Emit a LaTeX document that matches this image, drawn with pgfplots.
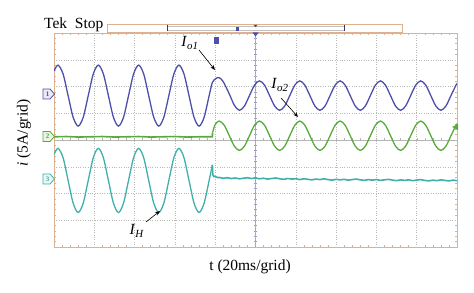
\documentclass[border=0pt]{standalone}
\usepackage{pgfplots}
\pgfplotsset{compat=1.18}
\usepackage{fontspec}
\setmainfont{Liberation Serif}
\usetikzlibrary{arrows.meta}
\definecolor{cone}{HTML}{4E4FAA}
\definecolor{ctwo}{HTML}{58AA3A}
\definecolor{cthree}{HTML}{40B0AA}
\definecolor{framec}{HTML}{DDB08F}
\definecolor{centc}{HTML}{9A9EC8}
\begin{document}
\begin{tikzpicture}[x=1pt,y=1pt,font=\fontsize{15.5}{18}\selectfont]
\path[use as bounding box] (0,0) rectangle (474,292);
% centre lines with small ticks
\draw[centc, line width=0.5pt] (255.5,45) -- (255.5,259);
\draw[gray!60, line width=0.5pt] (54,152) -- (457,152);
\foreach \k in {1,...,49} {\draw[gray!60, line width=0.4pt] (54+\k*8.06,150.5) -- ++(0,3);}
\foreach \k in {1,...,39} {\draw[centc, line width=0.4pt] (254,45+\k*5.35) -- ++(3,0);}
\begin{axis}[at={(54pt,45pt)}, anchor=south west, scale only axis,
  width=403pt, height=214pt, xmin=0, xmax=10, ymin=-4, ymax=4,
  xtick={0,...,10}, ytick={-4,...,4}, xticklabels={}, yticklabels={},
  major tick length=0pt, minor x tick num=4, minor y tick num=4, minor tick length=2pt,
  every tick/.style={framec, line width=0.5pt},
  grid=major, major grid style={dotted, gray!55, line width=0.5pt},
  axis line style={draw=framec, line width=0.8pt}, clip=true]
\addplot[cone, line width=1.3pt, smooth] coordinates {
(0,2.58)(0.1,2.80)(0.225,2.47)(0.35,1.66)(0.475,0.85)(0.6,0.52)(0.725,0.85)(0.85,1.66)(0.975,2.47)
(1.1,2.80)(1.225,2.47)(1.35,1.66)(1.475,0.85)(1.6,0.52)(1.725,0.85)(1.85,1.66)(1.975,2.47)
(2.1,2.80)(2.225,2.47)(2.35,1.66)(2.475,0.85)(2.6,0.52)(2.725,0.85)(2.85,1.66)(2.975,2.47)
(3.1,2.80)(3.225,2.47)(3.35,1.66)(3.475,0.85)(3.6,0.52)(3.725,0.85)(3.85,1.66)(3.93,2.15)
(4.02,2.30)(4.1,2.33)(4.2,2.18)(4.35,1.72)(4.475,1.30)(4.6,1.11)(4.725,1.27)(4.85,1.66)(4.975,2.05)
(5.1,2.21)(5.225,2.05)(5.35,1.66)(5.475,1.27)(5.6,1.11)(5.725,1.27)(5.85,1.66)(5.975,2.05)
(6.1,2.21)(6.225,2.05)(6.35,1.66)(6.475,1.27)(6.6,1.11)(6.725,1.27)(6.85,1.66)(6.975,2.05)
(7.1,2.21)(7.225,2.05)(7.35,1.66)(7.475,1.27)(7.6,1.11)(7.725,1.27)(7.85,1.66)(7.975,2.05)
(8.1,2.21)(8.225,2.05)(8.35,1.66)(8.475,1.27)(8.6,1.11)(8.725,1.27)(8.85,1.66)(8.975,2.05)
(9.1,2.21)(9.225,2.05)(9.35,1.66)(9.475,1.27)(9.6,1.11)(9.725,1.27)(9.85,1.66)(9.975,2.05)(10,2.10)};
\addplot[ctwo, line width=1.6pt] coordinates {
(0,0.12)(0.3,0.13)(0.6,0.11)(0.9,0.12)(1.2,0.13)(1.5,0.11)(1.8,0.12)(2.1,0.13)(2.4,0.11)
(2.7,0.12)(3.0,0.13)(3.3,0.11)(3.6,0.12)(3.93,0.12)(3.935,0.28)};
\addplot[ctwo, line width=1.3pt, smooth] coordinates {
(3.935,0.28)(4.0,0.58)(4.1,0.71)(4.225,0.55)(4.35,0.16)(4.475,-0.23)(4.6,-0.39)(4.725,-0.23)(4.85,0.16)(4.975,0.55)
(5.1,0.71)(5.225,0.55)(5.35,0.16)(5.475,-0.23)(5.6,-0.39)(5.725,-0.23)(5.85,0.16)(5.975,0.55)
(6.1,0.71)(6.225,0.55)(6.35,0.16)(6.475,-0.23)(6.6,-0.39)(6.725,-0.23)(6.85,0.16)(6.975,0.55)
(7.1,0.71)(7.225,0.55)(7.35,0.16)(7.475,-0.23)(7.6,-0.39)(7.725,-0.23)(7.85,0.16)(7.975,0.55)
(8.1,0.71)(8.225,0.55)(8.35,0.16)(8.475,-0.23)(8.6,-0.39)(8.725,-0.23)(8.85,0.16)(8.975,0.55)
(9.1,0.71)(9.225,0.55)(9.35,0.16)(9.475,-0.23)(9.6,-0.39)(9.725,-0.23)(9.85,0.16)(9.975,0.55)(10,0.60)};
\addplot[cthree, line width=1.3pt, smooth] coordinates {
(0,-0.54)(0.1,-0.31)(0.225,-0.66)(0.35,-1.51)(0.475,-2.36)(0.6,-2.71)(0.725,-2.36)(0.85,-1.51)(0.975,-0.66)
(1.1,-0.31)(1.225,-0.66)(1.35,-1.51)(1.475,-2.36)(1.6,-2.71)(1.725,-2.36)(1.85,-1.51)(1.975,-0.66)
(2.1,-0.31)(2.225,-0.66)(2.35,-1.51)(2.475,-2.36)(2.6,-2.71)(2.725,-2.36)(2.85,-1.51)(2.975,-0.66)
(3.1,-0.31)(3.225,-0.66)(3.35,-1.51)(3.475,-2.36)(3.6,-2.71)(3.725,-2.36)(3.85,-1.51)(3.93,-0.93)};
\addplot[cthree, line width=1.6pt] coordinates {
(3.93,-0.93)(3.94,-1.30)(3.97,-1.37)(4.0,-1.36)(4.05,-1.40)
(4.1,-1.40)(4.2,-1.43)(4.3,-1.41)(4.4,-1.44)(4.5,-1.42)(4.6,-1.45)(4.7,-1.43)(4.8,-1.41)(4.9,-1.44)(5.0,-1.42)
(5.1,-1.45)(5.2,-1.43)(5.3,-1.46)(5.4,-1.44)(5.5,-1.42)(5.6,-1.45)(5.7,-1.47)(5.8,-1.44)(5.9,-1.46)(6.0,-1.45)
(6.1,-1.48)(6.2,-1.45)(6.3,-1.47)(6.4,-1.49)(6.5,-1.46)(6.6,-1.48)(6.7,-1.45)(6.8,-1.48)(6.9,-1.50)(7.0,-1.47)
(7.1,-1.49)(7.2,-1.47)(7.3,-1.50)(7.4,-1.48)(7.5,-1.46)(7.6,-1.49)(7.7,-1.51)(7.8,-1.48)(7.9,-1.50)(8.0,-1.48)
(8.1,-1.51)(8.2,-1.49)(8.3,-1.47)(8.4,-1.50)(8.5,-1.52)(8.6,-1.49)(8.7,-1.51)(8.8,-1.49)(8.9,-1.52)(9.0,-1.50)
(9.1,-1.48)(9.2,-1.51)(9.3,-1.53)(9.4,-1.50)(9.5,-1.52)(9.6,-1.49)(9.7,-1.51)(9.8,-1.53)(9.9,-1.50)(10.0,-1.52)};
\end{axis}
% top status bar
\node[anchor=base west, inner sep=0pt] at (44,263.5) {Tek\ \ Stop};
\draw[framec, line width=0.7pt, fill=white] (107.5,259.7) rectangle (402,267.7);
\draw[gray!50, line width=0.6pt] (167,261.5) rectangle (344,266);
\draw[cone!70!black, line width=0.8pt] (167,260.5) -- (167,267) (344,260.5) -- (344,267);
\fill[cone] (235.5,260.8) rectangle (238.5,265);
\fill[black!70] (253.5,267.2) -- (257.5,267.2) -- (255.5,264.8) -- cycle;
\fill[cone] (252.5,259.5) -- (258.5,259.5) -- (255.5,255.5) -- cycle;
\fill[cone] (213.5,248) rectangle (218.5,254.5);
% channel markers
\foreach \yy/\cc/\nn in {198/cone/1, 155.5/ctwo/2, 113/cthree/3} {
  \draw[\cc, line width=0.8pt, fill=\cc!12] (43,\yy-5) -- (50,\yy-5) -- (54.5,\yy) -- (50,\yy+5) -- (43,\yy+5) -- cycle;
  \node[\cc, font=\fontsize{7}{7}\selectfont\bfseries, inner sep=0pt] at (47.5,\yy) {\nn};
}
\fill[ctwo] (452,165) -- (458,168) -- (458,162) -- cycle;
% labels
\node[rotate=90] at (24,159) {\textit{i} (5A/grid)};
\node at (250,25) {t (20ms/grid)};
% annotations
\node at (190,249) {\textit{I}\textsubscript{\textit{o1}}};
\draw[-{Stealth[length=5pt,width=4pt]}, line width=0.6pt] (199,242) -- (215,222);
\node at (280,207) {\textit{I}\textsubscript{\textit{o2}}};
\draw[-{Stealth[length=5pt,width=4pt]}, line width=0.6pt] (281,194) -- (298,175);
\node at (137,61) {\textit{I}\textsubscript{\textit{H}}};
\draw[-{Stealth[length=5pt,width=4pt]}, line width=0.6pt] (146,70) -- (160,81);
\end{tikzpicture}
\end{document}
